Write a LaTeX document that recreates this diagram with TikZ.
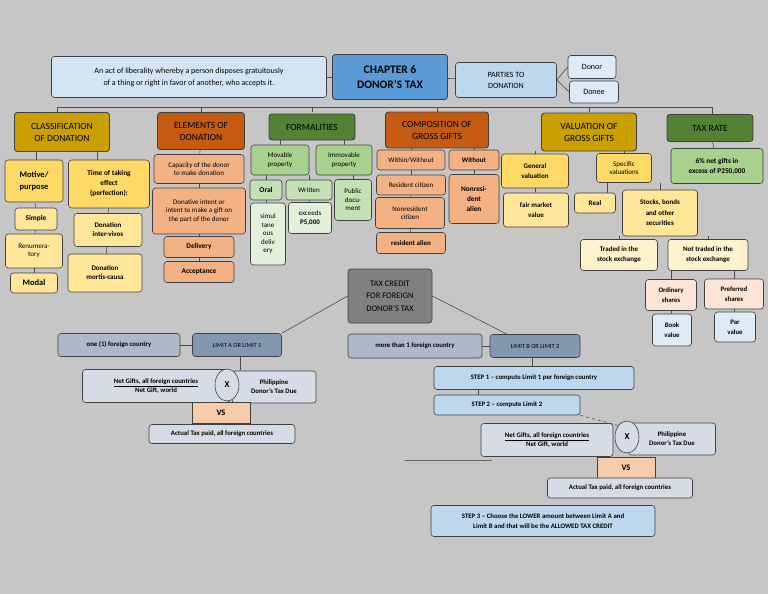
\documentclass[tikz,border=0pt]{standalone}
\usepackage{fontspec}
\setmainfont{Carlito}
\usetikzlibrary{shapes.geometric}
\begin{document}
\begin{tikzpicture}[x=1pt,y=-1pt,
 box/.style={draw=black!75,line width=0.6pt,rounded corners=3pt,align=center,inner sep=1pt,font=\fontsize{7}{8.5}\selectfont},
 hd/.style={box,font=\fontsize{9.5}{12}\selectfont,line width=0.9pt},
 ln/.style={draw=black!70,line width=0.6pt},
 xcirc/.style={draw=black!75,fill=gb,ellipse,line width=0.6pt,minimum width=24,minimum height=32,inner sep=0pt,font=\bfseries\fontsize{9}{10}\selectfont}]
\fill[gray!45!white] (0,0) rectangle (768,594);
\useasboundingbox (0,0) rectangle (768,594);
\definecolor{gold}{HTML}{C9A000}\definecolor{rust}{HTML}{C55A11}\definecolor{dgreen}{HTML}{548235}
\definecolor{y1}{HTML}{FFD966}\definecolor{y2}{HTML}{FFE699}\definecolor{y3}{HTML}{FFF2CC}
\definecolor{o1}{HTML}{F4B183}\definecolor{g1}{HTML}{A9D18E}\definecolor{g2}{HTML}{C5E0B4}\definecolor{g3}{HTML}{E2F0D9}
\definecolor{pk}{HTML}{FCE4D6}\definecolor{lb}{HTML}{DDEBF7}\definecolor{sb}{HTML}{ADB9CA}\definecolor{db}{HTML}{8497B0}
\definecolor{gb}{HTML}{D6DCE5}\definecolor{vs}{HTML}{F8CBAD}\definecolor{st}{HTML}{BDD7EE}\definecolor{ch}{HTML}{5B9BD5}
% top
\node[box,fill=lb!70!st,minimum width=275,minimum height=41,font=\fontsize{8}{12}\selectfont] (intro) at (189,77) {An act of liberality whereby a person disposes gratuitously\\of a thing or right in favor of another, who accepts it.};
\node[hd,fill=ch,minimum width=115,minimum height=45,font=\bfseries\fontsize{11.5}{14.5}\selectfont] (ch) at (390,77) {CHAPTER 6\\DONOR'S TAX};
\node[box,fill=st,minimum width=101,minimum height=35,font=\fontsize{8}{11}\selectfont] (par) at (506,80) {PARTIES TO\\DONATION};
\node[box,fill=lb,minimum width=48,minimum height=23,font=\fontsize{8}{9}\selectfont] (donor) at (592,67) {Donor};
\node[box,fill=lb,minimum width=49,minimum height=22,font=\fontsize{8}{9}\selectfont] (donee) at (594,92) {Donee};
\draw[ln] (intro) -- (ch); \draw[ln] (ch) -- (par); \draw[ln] (par.east) -- (donor.west); \draw[ln] (par.east) -- (donee.west);
% categories
\draw[ln] (57,113) -- (57,107) -- (712,107) -- (712,114);
\node[hd,fill=gold,minimum width=95,minimum height=39] (cl) at (62,132) {CLASSIFICATION\\OF DONATION};
\node[hd,fill=rust,minimum width=87,minimum height=37] (el) at (201,131) {ELEMENTS OF\\DONATION};
\node[hd,fill=dgreen,minimum width=86,minimum height=26] (fo) at (312,127) {FORMALITIES};
\node[hd,fill=rust,minimum width=103,minimum height=36] (co) at (437,130) {COMPOSITION OF\\GROSS GIFTS};
\node[hd,fill=gold,minimum width=95,minimum height=38] (va) at (589,132) {VALUATION OF\\GROSS GIFTS};
\node[hd,fill=dgreen,minimum width=86,minimum height=27] (tr) at (710,128) {TAX RATE};
\foreach \x in {201,312,437,589}{\draw[ln] (\x,107) -- (\x,112);}
% classification
\node[box,fill=y1,minimum width=58,minimum height=42,font=\bfseries\fontsize{8.5}{12}\selectfont] (mo) at (34,181) {Motive/\\purpose};
\node[box,fill=y1,minimum width=81,minimum height=48,font=\bfseries\fontsize{7.3}{10}\selectfont] (ti) at (109,184) {Time of taking\\effect\\(perfection):};
\node[box,fill=y2,minimum width=42,minimum height=22,font=\bfseries\fontsize{7.3}{8}\selectfont] (si) at (36,219) {Simple};
\node[box,fill=y2,minimum width=57,minimum height=34] (re) at (34,251) {Renumera-\\tory};
\node[box,fill=y2,minimum width=47,minimum height=20,font=\bfseries\fontsize{8.5}{9}\selectfont] (mod) at (34,283) {Modal};
\node[box,fill=y2,minimum width=68,minimum height=33,font=\bfseries\fontsize{7}{9}\selectfont] (iv) at (108,230) {Donation\\inter-vivos};
\node[box,fill=y2,minimum width=74,minimum height=38,font=\bfseries\fontsize{7}{9}\selectfont] (mc) at (105,273) {Donation\\mortis-causa};
\draw[ln] (36,152) -- (36,160); \draw[ln] (97,152) -- (97,160);
\draw[ln] (mo) -- (si); \draw[ln] (si) -- (re); \draw[ln] (re) -- (mod);
\draw[ln] (ti) -- (iv); \draw[ln] (iv) -- (mc);
% elements
\node[box,fill=o1,minimum width=90,minimum height=29] (ca) at (199,169) {Capacity of the donor\\to make donation};
\node[box,fill=o1,minimum width=93,minimum height=46] (dn) at (199,211) {Donative intent or\\intent to make a gift on\\the part of the donor};
\node[box,fill=o1,minimum width=70,minimum height=21,font=\bfseries\fontsize{7.3}{8}\selectfont] (de) at (199,247) {Delivery};
\node[box,fill=o1,minimum width=70,minimum height=21,font=\bfseries\fontsize{7.3}{8}\selectfont] (ac) at (199,272) {Acceptance};
\draw[ln] (el) -- (ca); \draw[ln] (ca) -- (dn); \draw[ln] (dn) -- (de); \draw[ln] (de) -- (ac);
% formalities
\node[box,fill=g1,minimum width=58,minimum height=30] (mv) at (280,160) {Movable\\property};
\node[box,fill=g1,minimum width=56,minimum height=30] (im) at (344,160) {Immovable\\property};
\node[box,fill=g2,minimum width=32,minimum height=20,font=\bfseries\fontsize{7.5}{8}\selectfont] (or) at (266,190) {Oral};
\node[box,fill=g2,minimum width=46,minimum height=20] (wr) at (309,190) {Written};
\node[box,fill=g2,minimum width=37,minimum height=41] (pd) at (353,200) {Public\\docu-\\ment};
\node[box,fill=g3,minimum width=35,minimum height=62] (sd) at (268,234) {simul\\tane\\ous\\deliv\\ery};
\node[box,fill=g3,minimum width=43,minimum height=31] (ex) at (310,218) {exceeds\\\textbf{P5,000}};
\draw[ln] (fo.south -| mv) -- (mv); \draw[ln] (fo.south -| im) -- (im);
\draw[ln] (mv.south -| or) -- (or); \draw[ln] (mv.south -| wr) -- (wr); \draw[ln] (im.south -| pd) -- (pd);
\draw[ln] (or) -- (sd); \draw[ln] (wr) -- (ex);
% composition
\node[box,fill=o1,minimum width=68,minimum height=20] (ww) at (411,160) {Within/Without};
\node[box,fill=o1,minimum width=50,minimum height=20,font=\bfseries\fontsize{7}{8}\selectfont] (wo) at (474,160) {Without};
\node[box,fill=o1,minimum width=69,minimum height=20] (rc) at (411,185) {Resident citizen};
\node[box,fill=o1,minimum width=69,minimum height=31] (nc) at (410,213) {Nonresident\\citizen};
\node[box,fill=o1,minimum width=69,minimum height=21,font=\bfseries\fontsize{7}{8}\selectfont] (ra) at (411,243) {resident alien};
\node[box,fill=o1,minimum width=50,minimum height=49,font=\bfseries\fontsize{7.3}{10}\selectfont] (na) at (474,199) {Nonresi-\\dent\\alien};
\draw[ln] (co.south -| ww) -- (ww); \draw[ln] (co.south -| wo) -- (wo);
\draw[ln] (ww) -- (rc); \draw[ln] (rc) -- (nc); \draw[ln] (nc) -- (ra); \draw[ln] (wo) -- (na);
% valuation
\node[box,fill=y1,minimum width=67,minimum height=34,font=\bfseries\fontsize{7}{10}\selectfont] (gv) at (535,171) {General\\valuation};
\node[box,fill=y1,minimum width=55,minimum height=29] (sv) at (624,168) {Specific\\valuations};
\node[box,fill=y2,minimum width=65,minimum height=34,font=\bfseries\fontsize{7}{10}\selectfont] (fm) at (536,210) {fair market\\value};
\node[box,fill=y2,minimum width=41,minimum height=20,font=\bfseries\fontsize{7}{8}\selectfont] (rl) at (595,203) {Real};
\node[box,fill=y2,minimum width=75,minimum height=46,font=\bfseries\fontsize{7}{10.5}\selectfont] (sk) at (660,213) {Stocks, bonds\\and other\\securities};
\node[box,fill=y3,minimum width=77,minimum height=31,font=\bfseries\fontsize{7}{10}\selectfont] (td) at (619,255) {Traded in the\\stock exchange};
\node[box,fill=y3,minimum width=80,minimum height=31,font=\bfseries\fontsize{7}{10}\selectfont] (nt) at (708,255) {Not traded in the\\stock exchange};
\node[box,fill=pk,minimum width=51,minimum height=31,font=\bfseries\fontsize{6.8}{10}\selectfont] (os) at (671,295) {Ordinary\\shares};
\node[box,fill=pk,minimum width=59,minimum height=30,font=\bfseries\fontsize{6.8}{10}\selectfont] (ps) at (734,294) {Preferred\\shares};
\node[box,fill=lb,minimum width=39,minimum height=32,font=\bfseries\fontsize{6.8}{10}\selectfont] (bv) at (672,330) {Book\\value};
\node[box,fill=lb,minimum width=41,minimum height=30,font=\bfseries\fontsize{6.8}{10}\selectfont] (pv) at (735,327) {Par\\value};
\draw[ln] (va.south -| gv) -- (gv); \draw[ln] (va.south -| sv) -- (sv);
\draw[ln] (gv) -- (fm); \draw[ln] (607,183) -- (607,193);
\draw[ln] (sv.south -| sk) -- (sk); \draw[ln] (sk.south -| td) -- (td); \draw[ln] (sk.south -| nt) -- (nt);
\draw[ln] (nt.south -| os) -- (os); \draw[ln] (nt.south -| ps) -- (ps); \draw[ln] (os) -- (bv); \draw[ln] (ps) -- (pv);
% tax rate
\node[box,fill=g1,minimum width=92,minimum height=35,font=\bfseries\fontsize{7.3}{10}\selectfont] (sx) at (717,166) {6\% net gifts in\\excess of P250,000};
\draw[ln] (tr) -- (sx);
% tax credit
\node[box,fill=black!50,minimum width=84,minimum height=54,font=\fontsize{8.5}{12.5}\selectfont] (tc) at (390,296) {TAX CREDIT\\FOR FOREIGN\\DONOR'S TAX};
\node[box,fill=sb,minimum width=122,minimum height=23,font=\bfseries\fontsize{6.8}{8}\selectfont] (one) at (119,345) {one (1) foreign country};
\node[box,fill=db,minimum width=89,minimum height=23,font=\fontsize{6.3}{8}\selectfont] (la) at (237,345) {LIMIT A OR LIMIT 1};
\node[box,fill=sb,minimum width=134,minimum height=24,font=\bfseries\fontsize{6.8}{8}\selectfont] (more) at (415,346) {more than 1 foreign country};
\node[box,fill=db,minimum width=90,minimum height=23,font=\fontsize{6.3}{8}\selectfont] (lb) at (535,346) {LIMIT B OR LIMIT 2};
\draw[ln] (tc.west) -- (la.north east); \draw[ln] (tc.east) -- ([xshift=-28]lb.north);
\draw[ln] (one) -- (la); \draw[ln] (more) -- (lb);
% left formula
\node[box,fill=gb,minimum width=147,minimum height=33,font=\bfseries\fontsize{6.8}{9}\selectfont] (ngl) at (156,386) {\underline{Net Gifts, all foreign countries}\\Net Gift, world};
\node[box,fill=gb,minimum width=84,minimum height=32,font=\bfseries\fontsize{6.8}{9}\selectfont] (phl) at (274,387) {Philippine\\Donor's Tax Due};
\node[xcirc] (xl) at (227,385) {X};
\node[box,fill=vs,rounded corners=0pt,minimum width=58,minimum height=21,font=\bfseries\fontsize{8.5}{9}\selectfont] (vl) at (221,413) {VS};
\node[box,fill=gb,minimum width=146,minimum height=19,font=\bfseries\fontsize{6.8}{8}\selectfont] (al) at (222,434) {Actual Tax paid, all foreign countries};
\draw[ln] (240,356) -- (240,370);
% right formula
\node[box,fill=st,minimum width=200,minimum height=23,font=\bfseries\fontsize{6.8}{8}\selectfont] (s1) at (534,378) {STEP 1 -- compute Limit 1 per foreign country};
\node[box,fill=st,minimum width=146,minimum height=20,font=\bfseries\fontsize{6.8}{8}\selectfont] (s2) at (507,405) {STEP 2 -- compute Limit 2};
\node[box,fill=gb,minimum width=132,minimum height=33,font=\bfseries\fontsize{6.8}{9}\selectfont] (ngr) at (547,440) {\underline{Net Gifts, all foreign countries}\\Net Gift, world};
\node[box,fill=gb,minimum width=87,minimum height=32,font=\bfseries\fontsize{6.8}{9}\selectfont] (phr) at (672,439) {Philippine\\Donor's Tax Due};
\node[xcirc] (xr) at (627,437) {X};
\node[box,fill=vs,rounded corners=0pt,minimum width=58,minimum height=22,font=\bfseries\fontsize{8.5}{9}\selectfont] (vr) at (626,468) {VS};
\node[box,fill=gb,minimum width=145,minimum height=20,font=\bfseries\fontsize{6.8}{8}\selectfont] (ar) at (620,488) {Actual Tax paid, all foreign countries};
\node[box,fill=st,minimum width=224,minimum height=31,font=\bfseries\fontsize{6.8}{10}\selectfont] (s3) at (543,521) {STEP 3 -- Choose the LOWER amount between Limit A and\\Limit B and that will be the ALLOWED TAX CREDIT};
\draw[ln] (532,357) -- (532,367);
\draw[ln] (478,390) -- (478,395);
\draw[ln,dashed] (s2.south east) -- (xr.north west);
\draw[black!60,line width=1pt] (405,460) -- (492,460);
\end{tikzpicture}
\end{document}
